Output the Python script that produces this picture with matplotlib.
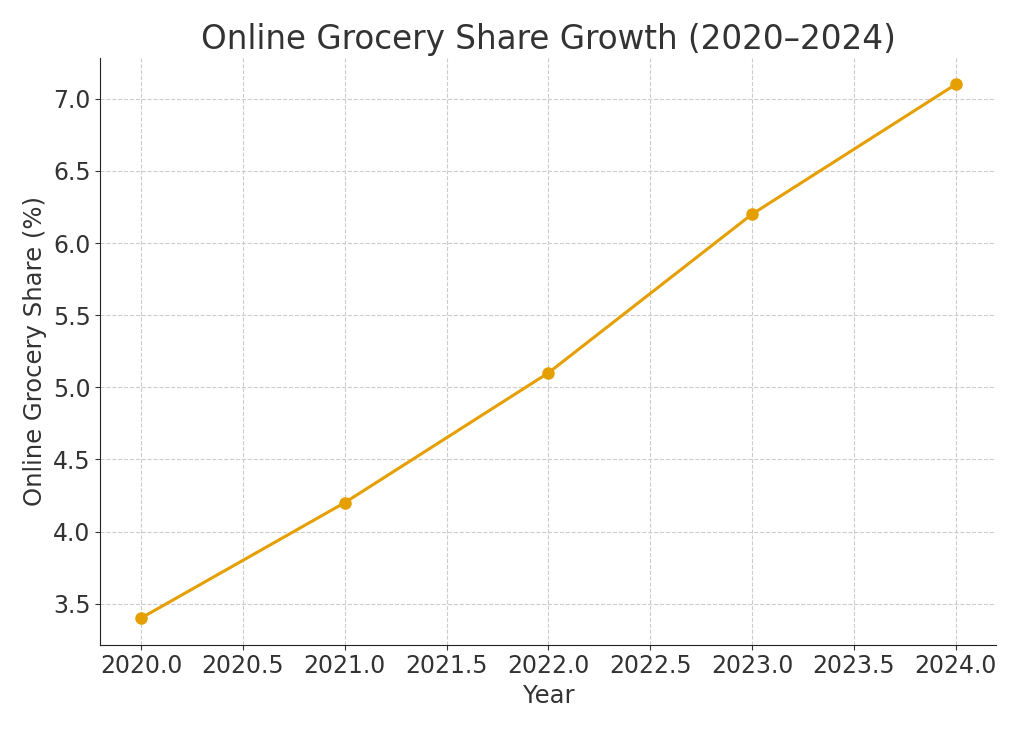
import matplotlib.pyplot as plt

years = [2020, 2021, 2022, 2023, 2024]
share = [3.4, 4.2, 5.1, 6.2, 7.1]

text_color = "#333333"
plt.rcParams["font.family"] = "DejaVu Sans"

fig, ax = plt.subplots(figsize=(10.24, 7.31), dpi=100)
fig.subplots_adjust(left=0.098, right=0.973, top=0.921, bottom=0.118)

ax.plot(years, share, color="#E69F00", linewidth=2.2, marker="o", markersize=8)

ax.set_title("Online Grocery Share Growth (2020\u20132024)", fontsize=23.5, color=text_color)
ax.set_xlabel("Year", fontsize=17.5, color=text_color)
ax.set_ylabel("Online Grocery Share (%)", fontsize=17.5, color=text_color)
ax.tick_params(labelsize=17, colors=text_color)
ax.grid(True, linestyle="--", color="#cccccc", linewidth=0.8)

for s in ["top", "right"]:
    ax.spines[s].set_visible(False)
ax.spines["left"].set_color("#222222")
ax.spines["bottom"].set_color("#222222")

fig.savefig("out.png", dpi=100)
